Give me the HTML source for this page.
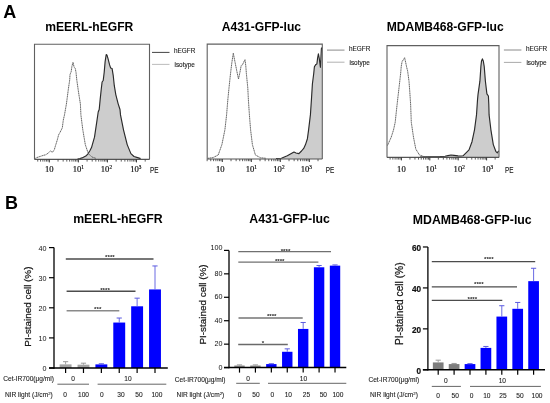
<!DOCTYPE html>
<html><head><meta charset="utf-8"><title>Figure</title>
<style>html,body{margin:0;padding:0;background:#fff;}body{width:550px;height:403px;overflow:hidden;}svg{display:block;}</style>
</head><body>
<svg width="550" height="403" viewBox="0 0 550 403">
<rect width="550" height="403" fill="#fff"/>
<text x="3.2" y="17.9" font-size="18" text-anchor="start" font-weight="bold" fill="#000" font-family='"Liberation Sans", Arial, sans-serif' >A</text>
<text x="4.9" y="208.6" font-size="18" text-anchor="start" font-weight="bold" fill="#000" font-family='"Liberation Sans", Arial, sans-serif' >B</text>
<text x="45.3" y="30.5" font-size="12.1" text-anchor="start" font-weight="bold" fill="#000" font-family='"Liberation Sans", Arial, sans-serif' >mEERL-hEGFR</text>
<text x="221.8" y="30.7" font-size="12.1" text-anchor="start" font-weight="bold" fill="#000" font-family='"Liberation Sans", Arial, sans-serif' >A431-GFP-luc</text>
<text x="386.7" y="31.2" font-size="12.1" text-anchor="start" font-weight="bold" fill="#000" font-family='"Liberation Sans", Arial, sans-serif' >MDAMB468-GFP-luc</text>
<path d="M77.5 159 L80 158.5 L82 157.9 L85.8 156.1 L88 153.8 L90 150.5 L91.5 147.6 L94.5 137.2 L96.7 122.3 L98.2 112 L99.2 109.5 L100.2 99.1 L101.3 88.7 L102.1 82 L103.2 80.5 L104.2 72.3 L105.1 61.9 L106.2 54.5 L107 55.2 L108.1 58.9 L109.6 64.9 L110.6 67.9 L112.1 68.6 L113.2 75.3 L114.3 85.7 L115.8 94.6 L118.1 103.6 L120 109.5 L120.5 114.9 L123.5 129.8 L127.2 144.6 L130.9 153.6 L134 156.5 L137.6 157.6 L140.6 158.6 L140.6 159.4 L77.5 159.4 Z" fill="#cdcdcd" stroke="none"/>
<path d="M77.5 159 L80 158.5 L82 157.9 L85.8 156.1 L88 153.8 L90 150.5 L91.5 147.6 L94.5 137.2 L96.7 122.3 L98.2 112 L99.2 109.5 L100.2 99.1 L101.3 88.7 L102.1 82 L103.2 80.5 L104.2 72.3 L105.1 61.9 L106.2 54.5 L107 55.2 L108.1 58.9 L109.6 64.9 L110.6 67.9 L112.1 68.6 L113.2 75.3 L114.3 85.7 L115.8 94.6 L118.1 103.6 L120 109.5 L120.5 114.9 L123.5 129.8 L127.2 144.6 L130.9 153.6 L134 156.5 L137.6 157.6 L140.6 158.6" fill="none" stroke="#2a2a2a" stroke-width="1.15" stroke-linejoin="round"/>
<path d="M35.3 158.4 L37 157.5 L40 156.5 L42.9 155.5 L45.9 154.7 L47.9 153.3 L50.4 151 L52.4 152.3 L54.3 149.8 L55.3 146.3 L57.3 139.9 L58.6 134.9 L60 132.4 L62.3 127.9 L63.3 120 L64.5 114.9 L66.4 104 L68.5 88 L69.7 80 L70 74.6 L71.2 71.6 L71.9 66.4 L73 62.3 L74.1 67.1 L75.3 68.6 L76 72.3 L76.8 80 L78.5 92 L80.4 104 L80.9 114.9 L82.8 129.8 L85.3 144.6 L88.3 153.6 L92 157 L96 158.4" fill="none" stroke="#555" stroke-width="0.9" stroke-linejoin="round" stroke-dasharray="1.4 0.4"/>
<path d="M34.5 159.4 L34.5 44.3 L149.5 44.3 L149.5 159.4" fill="none" stroke="#606060" stroke-width="1.1"/>
<line x1="34.5" y1="159.4" x2="149.5" y2="159.4" stroke="#555" stroke-width="1.1" />
<line x1="37.74" y1="159.4" x2="37.74" y2="161.6" stroke="#444" stroke-width="0.85" />
<line x1="40.56" y1="159.4" x2="40.56" y2="161.6" stroke="#444" stroke-width="0.85" />
<line x1="42.86" y1="159.4" x2="42.86" y2="161.6" stroke="#444" stroke-width="0.85" />
<line x1="44.8" y1="159.4" x2="44.8" y2="161.6" stroke="#444" stroke-width="0.85" />
<line x1="46.48" y1="159.4" x2="46.48" y2="161.6" stroke="#444" stroke-width="0.85" />
<line x1="47.97" y1="159.4" x2="47.97" y2="161.6" stroke="#444" stroke-width="0.85" />
<line x1="49.3" y1="159.4" x2="49.3" y2="162.4" stroke="#333" stroke-width="1" />
<line x1="58.04" y1="159.4" x2="58.04" y2="161.6" stroke="#444" stroke-width="0.85" />
<line x1="63.16" y1="159.4" x2="63.16" y2="161.6" stroke="#444" stroke-width="0.85" />
<line x1="66.79" y1="159.4" x2="66.79" y2="161.6" stroke="#444" stroke-width="0.85" />
<line x1="69.61" y1="159.4" x2="69.61" y2="161.6" stroke="#444" stroke-width="0.85" />
<line x1="71.91" y1="159.4" x2="71.91" y2="161.6" stroke="#444" stroke-width="0.85" />
<line x1="73.85" y1="159.4" x2="73.85" y2="161.6" stroke="#444" stroke-width="0.85" />
<line x1="75.53" y1="159.4" x2="75.53" y2="161.6" stroke="#444" stroke-width="0.85" />
<line x1="77.02" y1="159.4" x2="77.02" y2="161.6" stroke="#444" stroke-width="0.85" />
<line x1="78.35" y1="159.4" x2="78.35" y2="162.4" stroke="#333" stroke-width="1" />
<line x1="87.09" y1="159.4" x2="87.09" y2="161.6" stroke="#444" stroke-width="0.85" />
<line x1="92.21" y1="159.4" x2="92.21" y2="161.6" stroke="#444" stroke-width="0.85" />
<line x1="95.84" y1="159.4" x2="95.84" y2="161.6" stroke="#444" stroke-width="0.85" />
<line x1="98.66" y1="159.4" x2="98.66" y2="161.6" stroke="#444" stroke-width="0.85" />
<line x1="100.96" y1="159.4" x2="100.96" y2="161.6" stroke="#444" stroke-width="0.85" />
<line x1="102.9" y1="159.4" x2="102.9" y2="161.6" stroke="#444" stroke-width="0.85" />
<line x1="104.58" y1="159.4" x2="104.58" y2="161.6" stroke="#444" stroke-width="0.85" />
<line x1="106.07" y1="159.4" x2="106.07" y2="161.6" stroke="#444" stroke-width="0.85" />
<line x1="107.4" y1="159.4" x2="107.4" y2="162.4" stroke="#333" stroke-width="1" />
<line x1="116.14" y1="159.4" x2="116.14" y2="161.6" stroke="#444" stroke-width="0.85" />
<line x1="121.26" y1="159.4" x2="121.26" y2="161.6" stroke="#444" stroke-width="0.85" />
<line x1="124.89" y1="159.4" x2="124.89" y2="161.6" stroke="#444" stroke-width="0.85" />
<line x1="127.71" y1="159.4" x2="127.71" y2="161.6" stroke="#444" stroke-width="0.85" />
<line x1="130.01" y1="159.4" x2="130.01" y2="161.6" stroke="#444" stroke-width="0.85" />
<line x1="131.95" y1="159.4" x2="131.95" y2="161.6" stroke="#444" stroke-width="0.85" />
<line x1="133.63" y1="159.4" x2="133.63" y2="161.6" stroke="#444" stroke-width="0.85" />
<line x1="135.12" y1="159.4" x2="135.12" y2="161.6" stroke="#444" stroke-width="0.85" />
<line x1="136.45" y1="159.4" x2="136.45" y2="162.4" stroke="#333" stroke-width="1" />
<line x1="145.19" y1="159.4" x2="145.19" y2="161.6" stroke="#444" stroke-width="0.85" />
<text x="49.3" y="171.9" font-size="8.6" text-anchor="middle" font-weight="normal" fill="#111" font-family='"Liberation Serif", "Times New Roman", serif'  stroke="#111" stroke-width="0.2">10</text>
<text x="78.35" y="171.9" font-size="8.6" text-anchor="middle" font-weight="normal" fill="#111" font-family='"Liberation Serif", "Times New Roman", serif'  stroke="#111" stroke-width="0.2">10<tspan dy="-2.6" font-size="5.2">1</tspan></text>
<text x="106.4" y="171.9" font-size="8.6" text-anchor="middle" font-weight="normal" fill="#111" font-family='"Liberation Serif", "Times New Roman", serif'  stroke="#111" stroke-width="0.2">10<tspan dy="-2.6" font-size="5.2">2</tspan></text>
<text x="135.85" y="171.9" font-size="8.6" text-anchor="middle" font-weight="normal" fill="#111" font-family='"Liberation Serif", "Times New Roman", serif'  stroke="#111" stroke-width="0.2">10<tspan dy="-2.6" font-size="5.2">3</tspan></text>
<text x="150" y="172.6" font-size="8.8" text-anchor="start" font-weight="normal" fill="#111" font-family='"Liberation Sans", Arial, sans-serif' textLength="8.6" lengthAdjust="spacingAndGlyphs" stroke="#111" stroke-width="0.1">PE</text>
<line x1="152" y1="52.4" x2="169.5" y2="52.4" stroke="#444" stroke-width="1" />
<line x1="152" y1="64.4" x2="169.5" y2="64.4" stroke="#b4b4b4" stroke-width="0.9" />
<text x="174" y="53" font-size="6.4" text-anchor="start" font-weight="normal" fill="#222" font-family='"Liberation Sans", Arial, sans-serif'  stroke="#222" stroke-width="0.12">hEGFR</text>
<text x="174.5" y="66.8" font-size="6.4" text-anchor="start" font-weight="normal" fill="#222" font-family='"Liberation Sans", Arial, sans-serif'  stroke="#222" stroke-width="0.12">isotype</text>
<path d="M276 158.5 L281.4 158.3 L287.3 155.8 L294 152.1 L296 153 L298.9 153.6 L301.5 151 L303.7 148.4 L305.5 144.6 L307.4 138.7 L308.6 129.8 L310.4 114.9 L311.4 100 L312.4 84 L313.7 73.8 L314.4 66.8 L315.9 64.4 L316.9 63.9 L317.6 58 L318.4 53.9 L319.2 58 L320.4 67.3 L320.9 58 L321.4 48.5 L322 47.5 L322 159 L276 159 Z" fill="#cdcdcd" stroke="none"/>
<path d="M276 158.5 L281.4 158.3 L287.3 155.8 L294 152.1 L296 153 L298.9 153.6 L301.5 151 L303.7 148.4 L305.5 144.6 L307.4 138.7 L308.6 129.8 L310.4 114.9 L311.4 100 L312.4 84 L313.7 73.8 L314.4 66.8 L315.9 64.4 L316.9 63.9 L317.6 58 L318.4 53.9 L319.2 58 L320.4 67.3 L320.9 58 L321.4 48.5 L322 47.5" fill="none" stroke="#2a2a2a" stroke-width="1.15" stroke-linejoin="round"/>
<path d="M208 158.3 L213 157.6 L218.2 155 L221.9 144.6 L224.9 129.8 L226.6 114.9 L227.8 100 L229 88 L230.5 73.8 L231.8 63 L233.3 53.2 L235 62 L237 72 L238.5 79 L240 72 L241.2 65.5 L242.5 64.8 L243.5 62.5 L245 59.6 L245.8 66 L246.4 73.8 L247.8 88 L248.4 100 L249.4 114.9 L250.6 129.8 L252.4 144.6 L255.4 155 L260.6 157.8 L266 158.3" fill="none" stroke="#555" stroke-width="0.9" stroke-linejoin="round" stroke-dasharray="1.4 0.4"/>
<path d="M207.2 159 L207.2 44.1 L322.3 44.1 L322.3 159" fill="none" stroke="#606060" stroke-width="1.1"/>
<line x1="207.2" y1="159" x2="322.3" y2="159" stroke="#555" stroke-width="1.1" />
<line x1="207.14" y1="159" x2="207.14" y2="161.2" stroke="#444" stroke-width="0.85" />
<line x1="210.76" y1="159" x2="210.76" y2="161.2" stroke="#444" stroke-width="0.85" />
<line x1="213.57" y1="159" x2="213.57" y2="161.2" stroke="#444" stroke-width="0.85" />
<line x1="215.87" y1="159" x2="215.87" y2="161.2" stroke="#444" stroke-width="0.85" />
<line x1="217.81" y1="159" x2="217.81" y2="161.2" stroke="#444" stroke-width="0.85" />
<line x1="219.49" y1="159" x2="219.49" y2="161.2" stroke="#444" stroke-width="0.85" />
<line x1="220.97" y1="159" x2="220.97" y2="161.2" stroke="#444" stroke-width="0.85" />
<line x1="222.3" y1="159" x2="222.3" y2="162" stroke="#333" stroke-width="1" />
<line x1="231.03" y1="159" x2="231.03" y2="161.2" stroke="#444" stroke-width="0.85" />
<line x1="236.14" y1="159" x2="236.14" y2="161.2" stroke="#444" stroke-width="0.85" />
<line x1="239.76" y1="159" x2="239.76" y2="161.2" stroke="#444" stroke-width="0.85" />
<line x1="242.57" y1="159" x2="242.57" y2="161.2" stroke="#444" stroke-width="0.85" />
<line x1="244.87" y1="159" x2="244.87" y2="161.2" stroke="#444" stroke-width="0.85" />
<line x1="246.81" y1="159" x2="246.81" y2="161.2" stroke="#444" stroke-width="0.85" />
<line x1="248.49" y1="159" x2="248.49" y2="161.2" stroke="#444" stroke-width="0.85" />
<line x1="249.97" y1="159" x2="249.97" y2="161.2" stroke="#444" stroke-width="0.85" />
<line x1="251.3" y1="159" x2="251.3" y2="162" stroke="#333" stroke-width="1" />
<line x1="260.03" y1="159" x2="260.03" y2="161.2" stroke="#444" stroke-width="0.85" />
<line x1="265.14" y1="159" x2="265.14" y2="161.2" stroke="#444" stroke-width="0.85" />
<line x1="268.76" y1="159" x2="268.76" y2="161.2" stroke="#444" stroke-width="0.85" />
<line x1="271.57" y1="159" x2="271.57" y2="161.2" stroke="#444" stroke-width="0.85" />
<line x1="273.87" y1="159" x2="273.87" y2="161.2" stroke="#444" stroke-width="0.85" />
<line x1="275.81" y1="159" x2="275.81" y2="161.2" stroke="#444" stroke-width="0.85" />
<line x1="277.49" y1="159" x2="277.49" y2="161.2" stroke="#444" stroke-width="0.85" />
<line x1="278.97" y1="159" x2="278.97" y2="161.2" stroke="#444" stroke-width="0.85" />
<line x1="280.3" y1="159" x2="280.3" y2="162" stroke="#333" stroke-width="1" />
<line x1="289.03" y1="159" x2="289.03" y2="161.2" stroke="#444" stroke-width="0.85" />
<line x1="294.14" y1="159" x2="294.14" y2="161.2" stroke="#444" stroke-width="0.85" />
<line x1="297.76" y1="159" x2="297.76" y2="161.2" stroke="#444" stroke-width="0.85" />
<line x1="300.57" y1="159" x2="300.57" y2="161.2" stroke="#444" stroke-width="0.85" />
<line x1="302.87" y1="159" x2="302.87" y2="161.2" stroke="#444" stroke-width="0.85" />
<line x1="304.81" y1="159" x2="304.81" y2="161.2" stroke="#444" stroke-width="0.85" />
<line x1="306.49" y1="159" x2="306.49" y2="161.2" stroke="#444" stroke-width="0.85" />
<line x1="307.97" y1="159" x2="307.97" y2="161.2" stroke="#444" stroke-width="0.85" />
<line x1="309.3" y1="159" x2="309.3" y2="162" stroke="#333" stroke-width="1" />
<line x1="318.03" y1="159" x2="318.03" y2="161.2" stroke="#444" stroke-width="0.85" />
<text x="220.3" y="171.9" font-size="8.6" text-anchor="middle" font-weight="normal" fill="#111" font-family='"Liberation Serif", "Times New Roman", serif'  stroke="#111" stroke-width="0.2">10</text>
<text x="251.3" y="171.9" font-size="8.6" text-anchor="middle" font-weight="normal" fill="#111" font-family='"Liberation Serif", "Times New Roman", serif'  stroke="#111" stroke-width="0.2">10<tspan dy="-2.6" font-size="5.2">1</tspan></text>
<text x="278.9" y="171.9" font-size="8.6" text-anchor="middle" font-weight="normal" fill="#111" font-family='"Liberation Serif", "Times New Roman", serif'  stroke="#111" stroke-width="0.2">10<tspan dy="-2.6" font-size="5.2">2</tspan></text>
<text x="306.3" y="171.9" font-size="8.6" text-anchor="middle" font-weight="normal" fill="#111" font-family='"Liberation Serif", "Times New Roman", serif'  stroke="#111" stroke-width="0.2">10<tspan dy="-2.6" font-size="5.2">3</tspan></text>
<text x="325.8" y="172.6" font-size="8.8" text-anchor="start" font-weight="normal" fill="#111" font-family='"Liberation Sans", Arial, sans-serif' textLength="8.6" lengthAdjust="spacingAndGlyphs" stroke="#111" stroke-width="0.1">PE</text>
<line x1="327" y1="50.1" x2="344.5" y2="50.1" stroke="#8a8a8a" stroke-width="1" />
<line x1="327" y1="62.2" x2="344.5" y2="62.2" stroke="#a8a8a8" stroke-width="0.9" />
<text x="349" y="50.7" font-size="6.4" text-anchor="start" font-weight="normal" fill="#222" font-family='"Liberation Sans", Arial, sans-serif'  stroke="#222" stroke-width="0.12">hEGFR</text>
<text x="349.5" y="64.6" font-size="6.4" text-anchor="start" font-weight="normal" fill="#222" font-family='"Liberation Sans", Arial, sans-serif'  stroke="#222" stroke-width="0.12">isotype</text>
<path d="M420 157 L430 156.9 L440 156.6 L445 156.2 L448 155.6 L451 155 L454 155.4 L458 155.9 L461 156 L463 155.8 L466.8 152.1 L469 149.9 L472 141.7 L474.5 129.8 L476.5 114.9 L477.5 100 L478 94.6 L479.9 81.2 L480.9 66.3 L481.5 61 L482.4 58.9 L483.3 61 L484.2 66.3 L485.4 81.2 L486.9 93.9 L488.4 96 L488.8 104 L489.1 114.9 L490.9 129.8 L493.3 144.6 L495.8 151.3 L497.3 152.8 L498.3 151.3 L498.8 150.8 L498.8 157.4 L420 157.4 Z" fill="#cdcdcd" stroke="none"/>
<path d="M420 157 L430 156.9 L440 156.6 L445 156.2 L448 155.6 L451 155 L454 155.4 L458 155.9 L461 156 L463 155.8 L466.8 152.1 L469 149.9 L472 141.7 L474.5 129.8 L476.5 114.9 L477.5 100 L478 94.6 L479.9 81.2 L480.9 66.3 L481.5 61 L482.4 58.9 L483.3 61 L484.2 66.3 L485.4 81.2 L486.9 93.9 L488.4 96 L488.8 104 L489.1 114.9 L490.9 129.8 L493.3 144.6 L495.8 151.3 L497.3 152.8 L498.3 151.3 L498.8 150.8" fill="none" stroke="#2a2a2a" stroke-width="1.15" stroke-linejoin="round"/>
<path d="M387.5 145.5 L388.2 143.9 L391.2 137.2 L393.5 130 L395.2 122.3 L396.5 110 L397.6 100 L399 88 L400.6 73.8 L401.3 66 L402.1 61.6 L403.5 59.5 L404.6 57.7 L405.8 63 L406.6 67 L407.6 70.8 L409 81.2 L409.8 92 L410.6 104 L411.3 122.3 L413.5 137.2 L415.8 149.1 L419.5 155 L424 156.6 L432 156.9 L445 156.9" fill="none" stroke="#555" stroke-width="0.9" stroke-linejoin="round" stroke-dasharray="1.4 0.4"/>
<path d="M387 157.4 L387 45.6 L499 45.6 L499 157.4" fill="none" stroke="#606060" stroke-width="1.1"/>
<line x1="387" y1="157.4" x2="499" y2="157.4" stroke="#555" stroke-width="1.1" />
<line x1="390.1" y1="157.4" x2="390.1" y2="159.6" stroke="#444" stroke-width="0.85" />
<line x1="392.85" y1="157.4" x2="392.85" y2="159.6" stroke="#444" stroke-width="0.85" />
<line x1="395.1" y1="157.4" x2="395.1" y2="159.6" stroke="#444" stroke-width="0.85" />
<line x1="397" y1="157.4" x2="397" y2="159.6" stroke="#444" stroke-width="0.85" />
<line x1="398.65" y1="157.4" x2="398.65" y2="159.6" stroke="#444" stroke-width="0.85" />
<line x1="400.1" y1="157.4" x2="400.1" y2="159.6" stroke="#444" stroke-width="0.85" />
<line x1="401.4" y1="157.4" x2="401.4" y2="160.4" stroke="#333" stroke-width="1" />
<line x1="409.95" y1="157.4" x2="409.95" y2="159.6" stroke="#444" stroke-width="0.85" />
<line x1="414.95" y1="157.4" x2="414.95" y2="159.6" stroke="#444" stroke-width="0.85" />
<line x1="418.5" y1="157.4" x2="418.5" y2="159.6" stroke="#444" stroke-width="0.85" />
<line x1="421.25" y1="157.4" x2="421.25" y2="159.6" stroke="#444" stroke-width="0.85" />
<line x1="423.5" y1="157.4" x2="423.5" y2="159.6" stroke="#444" stroke-width="0.85" />
<line x1="425.4" y1="157.4" x2="425.4" y2="159.6" stroke="#444" stroke-width="0.85" />
<line x1="427.05" y1="157.4" x2="427.05" y2="159.6" stroke="#444" stroke-width="0.85" />
<line x1="428.5" y1="157.4" x2="428.5" y2="159.6" stroke="#444" stroke-width="0.85" />
<line x1="429.8" y1="157.4" x2="429.8" y2="160.4" stroke="#333" stroke-width="1" />
<line x1="438.35" y1="157.4" x2="438.35" y2="159.6" stroke="#444" stroke-width="0.85" />
<line x1="443.35" y1="157.4" x2="443.35" y2="159.6" stroke="#444" stroke-width="0.85" />
<line x1="446.9" y1="157.4" x2="446.9" y2="159.6" stroke="#444" stroke-width="0.85" />
<line x1="449.65" y1="157.4" x2="449.65" y2="159.6" stroke="#444" stroke-width="0.85" />
<line x1="451.9" y1="157.4" x2="451.9" y2="159.6" stroke="#444" stroke-width="0.85" />
<line x1="453.8" y1="157.4" x2="453.8" y2="159.6" stroke="#444" stroke-width="0.85" />
<line x1="455.45" y1="157.4" x2="455.45" y2="159.6" stroke="#444" stroke-width="0.85" />
<line x1="456.9" y1="157.4" x2="456.9" y2="159.6" stroke="#444" stroke-width="0.85" />
<line x1="458.2" y1="157.4" x2="458.2" y2="160.4" stroke="#333" stroke-width="1" />
<line x1="466.75" y1="157.4" x2="466.75" y2="159.6" stroke="#444" stroke-width="0.85" />
<line x1="471.75" y1="157.4" x2="471.75" y2="159.6" stroke="#444" stroke-width="0.85" />
<line x1="475.3" y1="157.4" x2="475.3" y2="159.6" stroke="#444" stroke-width="0.85" />
<line x1="478.05" y1="157.4" x2="478.05" y2="159.6" stroke="#444" stroke-width="0.85" />
<line x1="480.3" y1="157.4" x2="480.3" y2="159.6" stroke="#444" stroke-width="0.85" />
<line x1="482.2" y1="157.4" x2="482.2" y2="159.6" stroke="#444" stroke-width="0.85" />
<line x1="483.85" y1="157.4" x2="483.85" y2="159.6" stroke="#444" stroke-width="0.85" />
<line x1="485.3" y1="157.4" x2="485.3" y2="159.6" stroke="#444" stroke-width="0.85" />
<line x1="486.6" y1="157.4" x2="486.6" y2="160.4" stroke="#333" stroke-width="1" />
<line x1="495.15" y1="157.4" x2="495.15" y2="159.6" stroke="#444" stroke-width="0.85" />
<text x="401.4" y="171.9" font-size="8.6" text-anchor="middle" font-weight="normal" fill="#111" font-family='"Liberation Serif", "Times New Roman", serif'  stroke="#111" stroke-width="0.2">10</text>
<text x="431.2" y="171.9" font-size="8.6" text-anchor="middle" font-weight="normal" fill="#111" font-family='"Liberation Serif", "Times New Roman", serif'  stroke="#111" stroke-width="0.2">10<tspan dy="-2.6" font-size="5.2">1</tspan></text>
<text x="459.2" y="171.9" font-size="8.6" text-anchor="middle" font-weight="normal" fill="#111" font-family='"Liberation Serif", "Times New Roman", serif'  stroke="#111" stroke-width="0.2">10<tspan dy="-2.6" font-size="5.2">2</tspan></text>
<text x="487.6" y="171.9" font-size="8.6" text-anchor="middle" font-weight="normal" fill="#111" font-family='"Liberation Serif", "Times New Roman", serif'  stroke="#111" stroke-width="0.2">10<tspan dy="-2.6" font-size="5.2">3</tspan></text>
<text x="504.9" y="172.6" font-size="8.8" text-anchor="start" font-weight="normal" fill="#111" font-family='"Liberation Sans", Arial, sans-serif' textLength="8.6" lengthAdjust="spacingAndGlyphs" stroke="#111" stroke-width="0.1">PE</text>
<line x1="503.9" y1="50" x2="521.4" y2="50" stroke="#8a8a8a" stroke-width="1" />
<line x1="503.9" y1="62.4" x2="521.4" y2="62.4" stroke="#a0a0a0" stroke-width="0.9" />
<text x="525.9" y="50.6" font-size="6.4" text-anchor="start" font-weight="normal" fill="#222" font-family='"Liberation Sans", Arial, sans-serif'  stroke="#222" stroke-width="0.12">hEGFR</text>
<text x="526.4" y="64.8" font-size="6.4" text-anchor="start" font-weight="normal" fill="#222" font-family='"Liberation Sans", Arial, sans-serif'  stroke="#222" stroke-width="0.12">isotype</text>
<text x="73.2" y="223.2" font-size="12.3" text-anchor="start" font-weight="bold" fill="#000" font-family='"Liberation Sans", Arial, sans-serif' >mEERL-hEGFR</text>
<text x="249.3" y="222.6" font-size="12.3" text-anchor="start" font-weight="bold" fill="#000" font-family='"Liberation Sans", Arial, sans-serif' >A431-GFP-luc</text>
<text x="412.8" y="223.6" font-size="12.3" text-anchor="start" font-weight="bold" fill="#000" font-family='"Liberation Sans", Arial, sans-serif' >MDAMB468-GFP-luc</text>
<line x1="54" y1="247.6" x2="54" y2="368.7" stroke="#000" stroke-width="1.3" />
<line x1="49" y1="368" x2="54" y2="368" stroke="#000" stroke-width="1.2" />
<text x="46.6" y="371.2" font-size="7.2" text-anchor="end" font-weight="normal" fill="#111" font-family='"Liberation Sans", Arial, sans-serif' >0</text>
<line x1="49" y1="337.9" x2="54" y2="337.9" stroke="#000" stroke-width="1.2" />
<text x="46.6" y="341.1" font-size="7.2" text-anchor="end" font-weight="normal" fill="#111" font-family='"Liberation Sans", Arial, sans-serif' >10</text>
<line x1="49" y1="307.8" x2="54" y2="307.8" stroke="#000" stroke-width="1.2" />
<text x="46.6" y="311" font-size="7.2" text-anchor="end" font-weight="normal" fill="#111" font-family='"Liberation Sans", Arial, sans-serif' >20</text>
<line x1="49" y1="277.7" x2="54" y2="277.7" stroke="#000" stroke-width="1.2" />
<text x="46.6" y="280.9" font-size="7.2" text-anchor="end" font-weight="normal" fill="#111" font-family='"Liberation Sans", Arial, sans-serif' >30</text>
<line x1="49" y1="247.6" x2="54" y2="247.6" stroke="#000" stroke-width="1.2" />
<text x="46.6" y="251.3" font-size="7.2" text-anchor="end" font-weight="normal" fill="#111" font-family='"Liberation Sans", Arial, sans-serif' >40</text>
<rect x="59.65" y="364.39" width="11.9" height="3.61" fill="#a3a3a3"/>
<line x1="65.6" y1="364.39" x2="65.6" y2="361.68" stroke="#999" stroke-width="0.9" />
<line x1="63" y1="361.68" x2="68.2" y2="361.68" stroke="#999" stroke-width="1" />
<rect x="77.53" y="364.69" width="11.9" height="3.31" fill="#a3a3a3"/>
<line x1="83.48" y1="364.69" x2="83.48" y2="363.18" stroke="#999" stroke-width="0.9" />
<line x1="80.88" y1="363.18" x2="86.08" y2="363.18" stroke="#999" stroke-width="1" />
<rect x="95.41" y="364.39" width="11.9" height="3.61" fill="#0000ff"/>
<line x1="101.36" y1="364.39" x2="101.36" y2="363.79" stroke="#5a5ae0" stroke-width="0.9" />
<line x1="98.76" y1="363.79" x2="103.96" y2="363.79" stroke="#5a5ae0" stroke-width="1" />
<rect x="113.29" y="322.55" width="11.9" height="45.45" fill="#0000ff"/>
<line x1="119.24" y1="322.55" x2="119.24" y2="318.03" stroke="#5a5ae0" stroke-width="0.9" />
<line x1="116.64" y1="318.03" x2="121.84" y2="318.03" stroke="#5a5ae0" stroke-width="1" />
<rect x="131.17" y="306.3" width="11.9" height="61.7" fill="#0000ff"/>
<line x1="137.12" y1="306.3" x2="137.12" y2="298.17" stroke="#5a5ae0" stroke-width="0.9" />
<line x1="134.52" y1="298.17" x2="139.72" y2="298.17" stroke="#5a5ae0" stroke-width="1" />
<rect x="149.05" y="289.44" width="11.9" height="78.56" fill="#0000ff"/>
<line x1="155" y1="289.44" x2="155" y2="265.96" stroke="#5a5ae0" stroke-width="0.9" />
<line x1="152.4" y1="265.96" x2="157.6" y2="265.96" stroke="#5a5ae0" stroke-width="1" />
<line x1="49" y1="368" x2="167.8" y2="368" stroke="#000" stroke-width="1.5" />
<line x1="65.6" y1="368" x2="65.6" y2="373" stroke="#000" stroke-width="1.2" />
<line x1="83.48" y1="368" x2="83.48" y2="373" stroke="#000" stroke-width="1.2" />
<line x1="101.36" y1="368" x2="101.36" y2="373" stroke="#000" stroke-width="1.2" />
<line x1="119.24" y1="368" x2="119.24" y2="373" stroke="#000" stroke-width="1.2" />
<line x1="137.12" y1="368" x2="137.12" y2="373" stroke="#000" stroke-width="1.2" />
<line x1="155" y1="368" x2="155" y2="373" stroke="#000" stroke-width="1.2" />
<text transform="translate(31.4 346.7) rotate(-90)" font-size="9.9" font-family='"Liberation Sans", Arial, sans-serif' fill="#1a1a1a" stroke="#1a1a1a" stroke-width="0.25">PI-stained cell (%)</text>
<line x1="65.8" y1="259" x2="153.5" y2="259" stroke="#4a4a4a" stroke-width="1.35" />
<text x="109.9" y="259.15" font-size="6.2" text-anchor="middle" font-weight="bold" fill="#222" font-family='"Liberation Sans", Arial, sans-serif' >****</text>
<line x1="66.6" y1="291.2" x2="135.5" y2="291.2" stroke="#4c4c4c" stroke-width="1.35" />
<text x="105" y="291.65" font-size="6.2" text-anchor="middle" font-weight="bold" fill="#222" font-family='"Liberation Sans", Arial, sans-serif' >****</text>
<line x1="66.6" y1="310.7" x2="119.3" y2="310.7" stroke="#8a8a8a" stroke-width="1.35" />
<text x="97.7" y="311.15" font-size="6.2" text-anchor="middle" font-weight="bold" fill="#222" font-family='"Liberation Sans", Arial, sans-serif' >***</text>
<text x="54" y="381.4" font-size="6.6" text-anchor="end" font-weight="normal" fill="#222" font-family='"Liberation Sans", Arial, sans-serif'  stroke="#222" stroke-width="0.1">Cet-IR700(μg/ml)</text>
<text x="52.8" y="396.7" font-size="6.6" text-anchor="end" font-weight="normal" fill="#222" font-family='"Liberation Sans", Arial, sans-serif'  stroke="#222" stroke-width="0.1">NIR light (J/cm<tspan dy="-2.2" font-size="4.4">2</tspan><tspan dy="2.2">)</tspan></text>
<text x="73.1" y="381.3" font-size="6.6" text-anchor="middle" font-weight="normal" fill="#222" font-family='"Liberation Sans", Arial, sans-serif'  stroke="#222" stroke-width="0.1">0</text>
<text x="128" y="381.3" font-size="6.6" text-anchor="middle" font-weight="normal" fill="#222" font-family='"Liberation Sans", Arial, sans-serif'  stroke="#222" stroke-width="0.1">10</text>
<line x1="57.4" y1="384.2" x2="89" y2="384.2" stroke="#666" stroke-width="1" />
<line x1="97.6" y1="384.2" x2="166.3" y2="384.2" stroke="#666" stroke-width="1" />
<text x="65" y="396.7" font-size="6.6" text-anchor="middle" font-weight="normal" fill="#222" font-family='"Liberation Sans", Arial, sans-serif'  stroke="#222" stroke-width="0.1">0</text>
<text x="83.5" y="396.7" font-size="6.6" text-anchor="middle" font-weight="normal" fill="#222" font-family='"Liberation Sans", Arial, sans-serif'  stroke="#222" stroke-width="0.1">100</text>
<text x="101.8" y="396.7" font-size="6.6" text-anchor="middle" font-weight="normal" fill="#222" font-family='"Liberation Sans", Arial, sans-serif'  stroke="#222" stroke-width="0.1">0</text>
<text x="120.9" y="396.7" font-size="6.6" text-anchor="middle" font-weight="normal" fill="#222" font-family='"Liberation Sans", Arial, sans-serif'  stroke="#222" stroke-width="0.1">30</text>
<text x="139" y="396.7" font-size="6.6" text-anchor="middle" font-weight="normal" fill="#222" font-family='"Liberation Sans", Arial, sans-serif'  stroke="#222" stroke-width="0.1">50</text>
<text x="156.9" y="396.7" font-size="6.6" text-anchor="middle" font-weight="normal" fill="#222" font-family='"Liberation Sans", Arial, sans-serif'  stroke="#222" stroke-width="0.1">100</text>
<line x1="229" y1="250.4" x2="229" y2="368.3" stroke="#000" stroke-width="1.3" />
<line x1="224" y1="367.6" x2="229" y2="367.6" stroke="#000" stroke-width="1.2" />
<text x="222.4" y="369.5" font-size="7.2" text-anchor="end" font-weight="normal" fill="#111" font-family='"Liberation Sans", Arial, sans-serif' >0</text>
<line x1="224" y1="344.16" x2="229" y2="344.16" stroke="#000" stroke-width="1.2" />
<text x="222.4" y="346.06" font-size="7.2" text-anchor="end" font-weight="normal" fill="#111" font-family='"Liberation Sans", Arial, sans-serif' >20</text>
<line x1="224" y1="320.72" x2="229" y2="320.72" stroke="#000" stroke-width="1.2" />
<text x="222.4" y="322.62" font-size="7.2" text-anchor="end" font-weight="normal" fill="#111" font-family='"Liberation Sans", Arial, sans-serif' >40</text>
<line x1="224" y1="297.28" x2="229" y2="297.28" stroke="#000" stroke-width="1.2" />
<text x="222.4" y="299.18" font-size="7.2" text-anchor="end" font-weight="normal" fill="#111" font-family='"Liberation Sans", Arial, sans-serif' >60</text>
<line x1="224" y1="273.84" x2="229" y2="273.84" stroke="#000" stroke-width="1.2" />
<text x="222.4" y="275.74" font-size="7.2" text-anchor="end" font-weight="normal" fill="#111" font-family='"Liberation Sans", Arial, sans-serif' >80</text>
<line x1="224" y1="250.4" x2="229" y2="250.4" stroke="#000" stroke-width="1.2" />
<text x="222.4" y="250" font-size="7.2" text-anchor="end" font-weight="normal" fill="#111" font-family='"Liberation Sans", Arial, sans-serif' >100</text>
<rect x="234.3" y="365.49" width="10.4" height="2.11" fill="#8e8e8e"/>
<line x1="239.5" y1="365.49" x2="239.5" y2="364.9" stroke="#999" stroke-width="0.9" />
<line x1="236.9" y1="364.9" x2="242.1" y2="364.9" stroke="#999" stroke-width="1" />
<rect x="250.22" y="365.49" width="10.4" height="2.11" fill="#8e8e8e"/>
<line x1="255.42" y1="365.49" x2="255.42" y2="364.9" stroke="#999" stroke-width="0.9" />
<line x1="252.82" y1="364.9" x2="258.02" y2="364.9" stroke="#999" stroke-width="1" />
<rect x="266.14" y="364.08" width="10.4" height="3.52" fill="#0000ff"/>
<line x1="271.34" y1="364.08" x2="271.34" y2="363.73" stroke="#5a5ae0" stroke-width="0.9" />
<line x1="268.74" y1="363.73" x2="273.94" y2="363.73" stroke="#5a5ae0" stroke-width="1" />
<rect x="282.06" y="351.78" width="10.4" height="15.82" fill="#0000ff"/>
<line x1="287.26" y1="351.78" x2="287.26" y2="348.85" stroke="#5a5ae0" stroke-width="0.9" />
<line x1="284.66" y1="348.85" x2="289.86" y2="348.85" stroke="#5a5ae0" stroke-width="1" />
<rect x="297.98" y="328.92" width="10.4" height="38.68" fill="#0000ff"/>
<line x1="303.18" y1="328.92" x2="303.18" y2="322.48" stroke="#5a5ae0" stroke-width="0.9" />
<line x1="300.58" y1="322.48" x2="305.78" y2="322.48" stroke="#5a5ae0" stroke-width="1" />
<rect x="313.9" y="267.28" width="10.4" height="100.32" fill="#0000ff"/>
<line x1="319.1" y1="267.28" x2="319.1" y2="265.52" stroke="#5a5ae0" stroke-width="0.9" />
<line x1="316.5" y1="265.52" x2="321.7" y2="265.52" stroke="#5a5ae0" stroke-width="1" />
<rect x="329.82" y="265.64" width="10.4" height="101.96" fill="#0000ff"/>
<line x1="335.02" y1="265.64" x2="335.02" y2="264.93" stroke="#5a5ae0" stroke-width="0.9" />
<line x1="332.42" y1="264.93" x2="337.62" y2="264.93" stroke="#5a5ae0" stroke-width="1" />
<line x1="224" y1="367.6" x2="346.3" y2="367.6" stroke="#000" stroke-width="1.5" />
<line x1="239.5" y1="367.6" x2="239.5" y2="372.6" stroke="#000" stroke-width="1.2" />
<line x1="255.42" y1="367.6" x2="255.42" y2="372.6" stroke="#000" stroke-width="1.2" />
<line x1="271.34" y1="367.6" x2="271.34" y2="372.6" stroke="#000" stroke-width="1.2" />
<line x1="287.26" y1="367.6" x2="287.26" y2="372.6" stroke="#000" stroke-width="1.2" />
<line x1="303.18" y1="367.6" x2="303.18" y2="372.6" stroke="#000" stroke-width="1.2" />
<line x1="319.1" y1="367.6" x2="319.1" y2="372.6" stroke="#000" stroke-width="1.2" />
<line x1="335.02" y1="367.6" x2="335.02" y2="372.6" stroke="#000" stroke-width="1.2" />
<text transform="translate(206 344.5) rotate(-90)" font-size="9.9" font-family='"Liberation Sans", Arial, sans-serif' fill="#1a1a1a" stroke="#1a1a1a" stroke-width="0.25">PI-stained cell (%)</text>
<line x1="238.3" y1="251.6" x2="331" y2="251.6" stroke="#707070" stroke-width="1.35" />
<text x="285.5" y="252.65" font-size="6.2" text-anchor="middle" font-weight="bold" fill="#222" font-family='"Liberation Sans", Arial, sans-serif' >****</text>
<line x1="238.3" y1="262.1" x2="318.4" y2="262.1" stroke="#707070" stroke-width="1.35" />
<text x="279.7" y="262.95" font-size="6.2" text-anchor="middle" font-weight="bold" fill="#222" font-family='"Liberation Sans", Arial, sans-serif' >****</text>
<line x1="238.5" y1="318" x2="302.7" y2="318" stroke="#757575" stroke-width="1.35" />
<text x="271.7" y="317.65" font-size="6.2" text-anchor="middle" font-weight="bold" fill="#222" font-family='"Liberation Sans", Arial, sans-serif' >****</text>
<line x1="238.2" y1="344.5" x2="287.8" y2="344.5" stroke="#6a6a6a" stroke-width="1.35" />
<text x="262.9" y="345.15" font-size="6.2" text-anchor="middle" font-weight="bold" fill="#222" font-family='"Liberation Sans", Arial, sans-serif' >*</text>
<text x="225.5" y="381.5" font-size="6.6" text-anchor="end" font-weight="normal" fill="#222" font-family='"Liberation Sans", Arial, sans-serif'  stroke="#222" stroke-width="0.1">Cet-IR700(μg/ml)</text>
<text x="224.3" y="396.8" font-size="6.6" text-anchor="end" font-weight="normal" fill="#222" font-family='"Liberation Sans", Arial, sans-serif'  stroke="#222" stroke-width="0.1">NIR light (J/cm<tspan dy="-2.2" font-size="4.4">2</tspan><tspan dy="2.2">)</tspan></text>
<text x="248" y="380.9" font-size="6.6" text-anchor="middle" font-weight="normal" fill="#222" font-family='"Liberation Sans", Arial, sans-serif'  stroke="#222" stroke-width="0.1">0</text>
<text x="303.5" y="380.9" font-size="6.6" text-anchor="middle" font-weight="normal" fill="#222" font-family='"Liberation Sans", Arial, sans-serif'  stroke="#222" stroke-width="0.1">10</text>
<line x1="236.2" y1="383.3" x2="259.8" y2="383.3" stroke="#666" stroke-width="1" />
<line x1="268" y1="383.3" x2="346.3" y2="383.3" stroke="#666" stroke-width="1" />
<text x="239.6" y="396.8" font-size="6.6" text-anchor="middle" font-weight="normal" fill="#222" font-family='"Liberation Sans", Arial, sans-serif'  stroke="#222" stroke-width="0.1">0</text>
<text x="256" y="396.8" font-size="6.6" text-anchor="middle" font-weight="normal" fill="#222" font-family='"Liberation Sans", Arial, sans-serif'  stroke="#222" stroke-width="0.1">50</text>
<text x="272.4" y="396.8" font-size="6.6" text-anchor="middle" font-weight="normal" fill="#222" font-family='"Liberation Sans", Arial, sans-serif'  stroke="#222" stroke-width="0.1">0</text>
<text x="288.3" y="396.8" font-size="6.6" text-anchor="middle" font-weight="normal" fill="#222" font-family='"Liberation Sans", Arial, sans-serif'  stroke="#222" stroke-width="0.1">10</text>
<text x="306.5" y="396.8" font-size="6.6" text-anchor="middle" font-weight="normal" fill="#222" font-family='"Liberation Sans", Arial, sans-serif'  stroke="#222" stroke-width="0.1">25</text>
<text x="323.3" y="396.8" font-size="6.6" text-anchor="middle" font-weight="normal" fill="#222" font-family='"Liberation Sans", Arial, sans-serif'  stroke="#222" stroke-width="0.1">50</text>
<text x="337.9" y="396.8" font-size="6.6" text-anchor="middle" font-weight="normal" fill="#222" font-family='"Liberation Sans", Arial, sans-serif'  stroke="#222" stroke-width="0.1">100</text>
<line x1="427.9" y1="246.98" x2="427.9" y2="370.5" stroke="#000" stroke-width="1.3" />
<line x1="422.9" y1="369.8" x2="427.9" y2="369.8" stroke="#000" stroke-width="1.2" />
<text x="421" y="373.7" font-size="8.2" text-anchor="end" font-weight="bold" fill="#111" font-family='"Liberation Sans", Arial, sans-serif'  stroke="#111" stroke-width="0.2">0</text>
<line x1="422.9" y1="328.86" x2="427.9" y2="328.86" stroke="#000" stroke-width="1.2" />
<text x="421" y="332.76" font-size="8.2" text-anchor="end" font-weight="bold" fill="#111" font-family='"Liberation Sans", Arial, sans-serif'  stroke="#111" stroke-width="0.2">20</text>
<line x1="422.9" y1="287.92" x2="427.9" y2="287.92" stroke="#000" stroke-width="1.2" />
<text x="421" y="291.82" font-size="8.2" text-anchor="end" font-weight="bold" fill="#111" font-family='"Liberation Sans", Arial, sans-serif'  stroke="#111" stroke-width="0.2">40</text>
<line x1="422.9" y1="246.98" x2="427.9" y2="246.98" stroke="#000" stroke-width="1.2" />
<text x="421" y="250.88" font-size="8.2" text-anchor="end" font-weight="bold" fill="#111" font-family='"Liberation Sans", Arial, sans-serif'  stroke="#111" stroke-width="0.2">60</text>
<rect x="432.85" y="362.43" width="10.7" height="7.37" fill="#7d7d7d"/>
<line x1="438.2" y1="362.43" x2="438.2" y2="360.18" stroke="#999" stroke-width="0.9" />
<line x1="435.6" y1="360.18" x2="440.8" y2="360.18" stroke="#999" stroke-width="1" />
<rect x="448.75" y="364.07" width="10.7" height="5.73" fill="#7d7d7d"/>
<line x1="454.1" y1="364.07" x2="454.1" y2="363.45" stroke="#999" stroke-width="0.9" />
<line x1="451.5" y1="363.45" x2="456.7" y2="363.45" stroke="#999" stroke-width="1" />
<rect x="464.65" y="364.07" width="10.7" height="5.73" fill="#0000ff"/>
<line x1="470" y1="364.07" x2="470" y2="363.66" stroke="#5a5ae0" stroke-width="0.9" />
<line x1="467.4" y1="363.66" x2="472.6" y2="363.66" stroke="#5a5ae0" stroke-width="1" />
<rect x="480.55" y="347.9" width="10.7" height="21.9" fill="#0000ff"/>
<line x1="485.9" y1="347.9" x2="485.9" y2="346.46" stroke="#5a5ae0" stroke-width="0.9" />
<line x1="483.3" y1="346.46" x2="488.5" y2="346.46" stroke="#5a5ae0" stroke-width="1" />
<rect x="496.45" y="316.58" width="10.7" height="53.22" fill="#0000ff"/>
<line x1="501.8" y1="316.58" x2="501.8" y2="305.73" stroke="#5a5ae0" stroke-width="0.9" />
<line x1="499.2" y1="305.73" x2="504.4" y2="305.73" stroke="#5a5ae0" stroke-width="1" />
<rect x="512.35" y="308.8" width="10.7" height="61" fill="#0000ff"/>
<line x1="517.7" y1="308.8" x2="517.7" y2="302.45" stroke="#5a5ae0" stroke-width="0.9" />
<line x1="515.1" y1="302.45" x2="520.3" y2="302.45" stroke="#5a5ae0" stroke-width="1" />
<rect x="528.25" y="281.16" width="10.7" height="88.64" fill="#0000ff"/>
<line x1="533.6" y1="281.16" x2="533.6" y2="268.27" stroke="#5a5ae0" stroke-width="0.9" />
<line x1="531" y1="268.27" x2="536.2" y2="268.27" stroke="#5a5ae0" stroke-width="1" />
<line x1="422.9" y1="369.8" x2="545" y2="369.8" stroke="#000" stroke-width="1.5" />
<line x1="438.2" y1="369.8" x2="438.2" y2="374.8" stroke="#000" stroke-width="1.2" />
<line x1="454.1" y1="369.8" x2="454.1" y2="374.8" stroke="#000" stroke-width="1.2" />
<line x1="470" y1="369.8" x2="470" y2="374.8" stroke="#000" stroke-width="1.2" />
<line x1="485.9" y1="369.8" x2="485.9" y2="374.8" stroke="#000" stroke-width="1.2" />
<line x1="501.8" y1="369.8" x2="501.8" y2="374.8" stroke="#000" stroke-width="1.2" />
<line x1="517.7" y1="369.8" x2="517.7" y2="374.8" stroke="#000" stroke-width="1.2" />
<line x1="533.6" y1="369.8" x2="533.6" y2="374.8" stroke="#000" stroke-width="1.2" />
<text transform="translate(402.7 345.1) rotate(-90)" font-size="10.2" font-family='"Liberation Sans", Arial, sans-serif' fill="#1a1a1a" stroke="#1a1a1a" stroke-width="0.25">PI-stained cell (%)</text>
<line x1="431.8" y1="261.6" x2="535.2" y2="261.6" stroke="#4c4c4c" stroke-width="1.35" />
<text x="488.8" y="260.95" font-size="6.2" text-anchor="middle" font-weight="bold" fill="#222" font-family='"Liberation Sans", Arial, sans-serif' >****</text>
<line x1="431.8" y1="286.9" x2="517" y2="286.9" stroke="#4c4c4c" stroke-width="1.35" />
<text x="478.8" y="286.15" font-size="6.2" text-anchor="middle" font-weight="bold" fill="#222" font-family='"Liberation Sans", Arial, sans-serif' >****</text>
<line x1="431.8" y1="300.4" x2="502.3" y2="300.4" stroke="#4c4c4c" stroke-width="1.35" />
<text x="472.3" y="300.65" font-size="6.2" text-anchor="middle" font-weight="bold" fill="#222" font-family='"Liberation Sans", Arial, sans-serif' >****</text>
<text x="419.1" y="381.7" font-size="6.6" text-anchor="end" font-weight="normal" fill="#222" font-family='"Liberation Sans", Arial, sans-serif'  stroke="#222" stroke-width="0.1">Cet-IR700(μg/ml)</text>
<text x="417.9" y="396.7" font-size="6.6" text-anchor="end" font-weight="normal" fill="#222" font-family='"Liberation Sans", Arial, sans-serif'  stroke="#222" stroke-width="0.1">NIR light (J/cm<tspan dy="-2.2" font-size="4.4">2</tspan><tspan dy="2.2">)</tspan></text>
<text x="445.9" y="383.3" font-size="6.6" text-anchor="middle" font-weight="normal" fill="#222" font-family='"Liberation Sans", Arial, sans-serif'  stroke="#222" stroke-width="0.1">0</text>
<text x="502.3" y="383.3" font-size="6.6" text-anchor="middle" font-weight="normal" fill="#222" font-family='"Liberation Sans", Arial, sans-serif'  stroke="#222" stroke-width="0.1">10</text>
<line x1="431.8" y1="386.4" x2="460.9" y2="386.4" stroke="#666" stroke-width="1" />
<line x1="470" y1="386.4" x2="540.9" y2="386.4" stroke="#666" stroke-width="1" />
<text x="438.2" y="398.1" font-size="6.6" text-anchor="middle" font-weight="normal" fill="#222" font-family='"Liberation Sans", Arial, sans-serif'  stroke="#222" stroke-width="0.1">0</text>
<text x="455.2" y="398.1" font-size="6.6" text-anchor="middle" font-weight="normal" fill="#222" font-family='"Liberation Sans", Arial, sans-serif'  stroke="#222" stroke-width="0.1">50</text>
<text x="471.6" y="398.1" font-size="6.6" text-anchor="middle" font-weight="normal" fill="#222" font-family='"Liberation Sans", Arial, sans-serif'  stroke="#222" stroke-width="0.1">0</text>
<text x="486.8" y="398.1" font-size="6.6" text-anchor="middle" font-weight="normal" fill="#222" font-family='"Liberation Sans", Arial, sans-serif'  stroke="#222" stroke-width="0.1">10</text>
<text x="503" y="398.1" font-size="6.6" text-anchor="middle" font-weight="normal" fill="#222" font-family='"Liberation Sans", Arial, sans-serif'  stroke="#222" stroke-width="0.1">25</text>
<text x="520" y="398.1" font-size="6.6" text-anchor="middle" font-weight="normal" fill="#222" font-family='"Liberation Sans", Arial, sans-serif'  stroke="#222" stroke-width="0.1">50</text>
<text x="537" y="398.1" font-size="6.6" text-anchor="middle" font-weight="normal" fill="#222" font-family='"Liberation Sans", Arial, sans-serif'  stroke="#222" stroke-width="0.1">100</text>
</svg>
</body></html>
